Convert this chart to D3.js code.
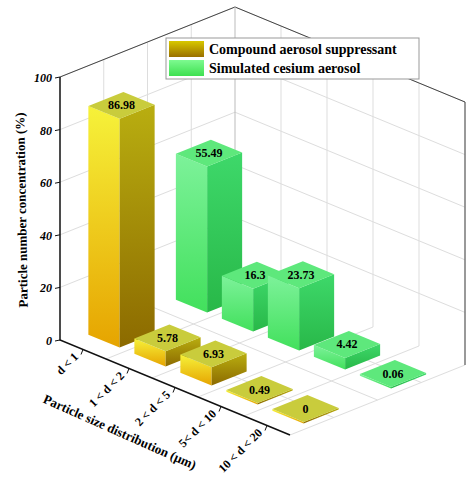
<!DOCTYPE html><html><head><meta charset="utf-8">
<script src="https://cdn.jsdelivr.net/npm/d3@7"></script>
<style>body{margin:0;background:#fff}text{font-family:"Liberation Serif",serif;font-weight:bold}</style></head><body>
<svg id="c" width="474" height="481"></svg>
<script>
const categories=["d < 1","1 < d < 2","2 < d < 5","5< d < 10","10 < d < 20"];
const seriesNames=["Compound aerosol suppressant","Simulated cesium aerosol"];
const suppressant=[86.98,5.78,6.93,0.49,0];
const cesium=[55.49,16.3,23.73,4.42,0.06];
const zTicks=[0,20,40,60,80,100];

const svg=d3.select("#c");
const O=[60,340];
const cat=d3.scaleLinear().domain([0,5]).range([0,5]);
const dep=d3.scaleLinear().domain([0,1]).range([0,1]);
const z=d3.scaleLinear().domain([0,100]).range([0,263]);
const CV=[46,19], DV=[175,-70];
function P(c,d,v){return [O[0]+cat(c)*CV[0]+dep(d)*DV[0], O[1]+cat(c)*CV[1]+dep(d)*DV[1]-z(v)];}
const line=pts=>"M"+pts.map(p=>p.join(",")).join("L")+"Z";
const grid=svg.append("g");
zTicks.forEach(t=>{ if(t===0)return;
  grid.append("path").attr("d","M"+P(0,0,t)+"L"+P(0,1,t)+"L"+P(5,1,t)).attr("fill","none").attr("stroke","#ddd");});
for(let i=1;i<=5;i++){grid.append("path").attr("d","M"+P(i,0,0)+"L"+P(i,1,0)+"L"+P(i,1,100)).attr("fill","none").attr("stroke","#ddd");}
[0.25,0.5,0.75].forEach(d=>grid.append("path").attr("d","M"+P(5,d,0)+"L"+P(0,d,0)+"L"+P(0,d,100)).attr("fill","none").attr("stroke","#ddd"));
grid.append("path").attr("d","M"+P(0,0,100)+"L"+P(0,1,100)+"L"+P(5,1,100)+"L"+P(5,1,0)).attr("fill","none").attr("stroke","#444");
grid.append("path").attr("d","M"+P(0,1,0)+"L"+P(0,1,100)).attr("fill","none").attr("stroke","#bbb");
grid.append("path").attr("d","M"+P(0,0,100)+"L"+P(0,0,0)+"L"+P(5,0,0)).attr("fill","none").attr("stroke","#111").attr("stroke-width",1.5);
zTicks.forEach(t=>{const p=P(0,0,t);
  svg.append("line").attr("x1",p[0]).attr("y1",p[1]).attr("x2",p[0]-5).attr("y2",p[1]+1).attr("stroke","#111");
  svg.append("text").attr("x",p[0]-8).attr("y",p[1]+5).attr("text-anchor","end").attr("font-size",12).attr("font-style","italic").attr("font-weight","normal").text(t);});
categories.forEach((c,i)=>{const p=P(i+0.5,0,0);
  svg.append("line").attr("x1",p[0]).attr("y1",p[1]).attr("x2",p[0]-2).attr("y2",p[1]+5).attr("stroke","#111");
  svg.append("text").attr("transform",`translate(${p[0]-4},${p[1]+8}) rotate(-45)`).attr("text-anchor","end").attr("font-size",12).attr("font-weight","normal").text(c);});
const defs=svg.append("defs");
function grad(id,c1,c2){const g=defs.append("linearGradient").attr("id",id).attr("x1",0).attr("y1",0).attr("x2",0).attr("y2",1);
 g.append("stop").attr("offset","0%").attr("stop-color",c1);g.append("stop").attr("offset","100%").attr("stop-color",c2);}
grad("yf","#f6f23a","#e6a400");grad("ys","#b9ae10","#8c6a00");grad("gf","#7df29a","#42e05c");grad("gs","#3ed86a","#28b848");
grad("ly","#d8c800","#9a7000");grad("lg","#7dfa90","#3ee050");
const bw=0.68, bd=0.2;
const bars=[];
suppressant.forEach((v,i)=>bars.push({s:0,i,v}));
cesium.forEach((v,i)=>bars.push({s:1,i,v}));
bars.sort((a,b)=>(b.s-a.s)||(a.i-b.i));
const bg=svg.append("g");
bars.forEach(b=>{
  const c0=b.i+(1-bw)/2,c1=c0+bw,d0=(b.s?0.72:0.22)-bd/2,d1=d0+bd,h=Math.max(b.v,0.6);
  const y=b.s===0;
  const front=line([P(c0,d0,0),P(c1,d0,0),P(c1,d0,h),P(c0,d0,h)]);
  const side=line([P(c1,d0,0),P(c1,d1,0),P(c1,d1,h),P(c1,d0,h)]);
  const top=line([P(c0,d0,h),P(c1,d0,h),P(c1,d1,h),P(c0,d1,h)]);
  bg.append("path").attr("d",front).attr("fill",y?"url(#yf)":"url(#gf)");
  bg.append("path").attr("d",side).attr("fill",y?"url(#ys)":"url(#gs)");
  bg.append("path").attr("d",top).attr("fill",y?"#c9cc3c":"#5ee87c");
  const t=P((c0+c1)/2,(d0+d1)/2,h);
  bg.append("text").attr("x",t[0]).attr("y",t[1]+4).attr("text-anchor","middle").attr("font-size",12).text(b.v);
});
svg.append("text").attr("transform","translate(26,210) rotate(-91)").attr("text-anchor","middle").attr("font-size",13).text("Particle number concentration (%)");
svg.append("text").attr("transform","translate(118,436) rotate(24)").attr("text-anchor","middle").attr("font-size",13).text("Particle size distribution (μm)");
const lg=svg.append("g").attr("transform","translate(166,38)");
lg.append("rect").attr("width",253).attr("height",41).attr("fill","#fff").attr("stroke","#999");
[["url(#ly)",seriesNames[0]],["url(#lg)",seriesNames[1]]].forEach((d,k)=>{
  lg.append("rect").attr("x",3).attr("y",3+k*19).attr("width",35).attr("height",16).attr("fill",d[0]);
  lg.append("text").attr("x",43).attr("y",16+k*19).attr("font-size",14).text(d[1]);});
</script></body></html>
